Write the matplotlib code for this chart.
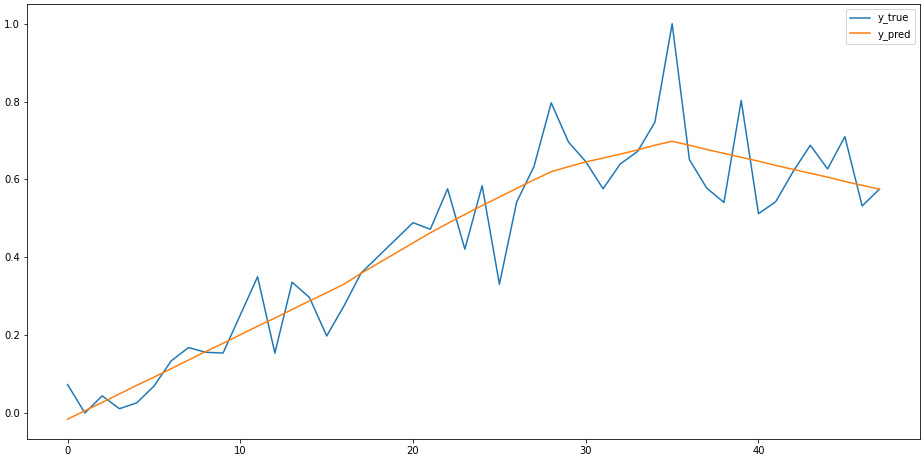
import matplotlib.pyplot as plt
import numpy as np

# values
y_true = [0.073, 0.0, 0.044, 0.011, 0.026, 0.069, 0.134, 0.168, 0.156, 0.154,
          0.252, 0.350, 0.154, 0.336, 0.297, 0.198, 0.275, 0.360, 0.403, 0.446,
          0.489, 0.472, 0.576, 0.421, 0.584, 0.331, 0.542, 0.633, 0.797, 0.696,
          0.646, 0.576, 0.640, 0.672, 0.747, 1.0, 0.651, 0.578, 0.541, 0.803,
          0.512, 0.543, 0.620, 0.688, 0.627, 0.710, 0.532, 0.575]

y_pred = [-0.016, 0.006, 0.027, 0.049, 0.071, 0.092, 0.114, 0.136, 0.158, 0.179,
          0.201, 0.223, 0.244, 0.266, 0.288, 0.309, 0.331, 0.359, 0.385, 0.411,
          0.437, 0.463, 0.487, 0.510, 0.533, 0.555, 0.577, 0.599, 0.620, 0.633,
          0.645, 0.655, 0.665, 0.676, 0.688, 0.698, 0.688, 0.677, 0.667, 0.657,
          0.647, 0.636, 0.626, 0.616, 0.606, 0.595, 0.585, 0.575]

fig = plt.figure(figsize=(924 / 72, 456 / 72), dpi=72)
ax = fig.add_axes([27 / 924, 1 - 439 / 456, 893 / 924, 435 / 456])

ax.plot(np.arange(len(y_true)), y_true, label='y_true')
ax.plot(np.arange(len(y_pred)), y_pred, label='y_pred')
ax.legend(loc='upper right')

fig.savefig('out.png', dpi=72)
